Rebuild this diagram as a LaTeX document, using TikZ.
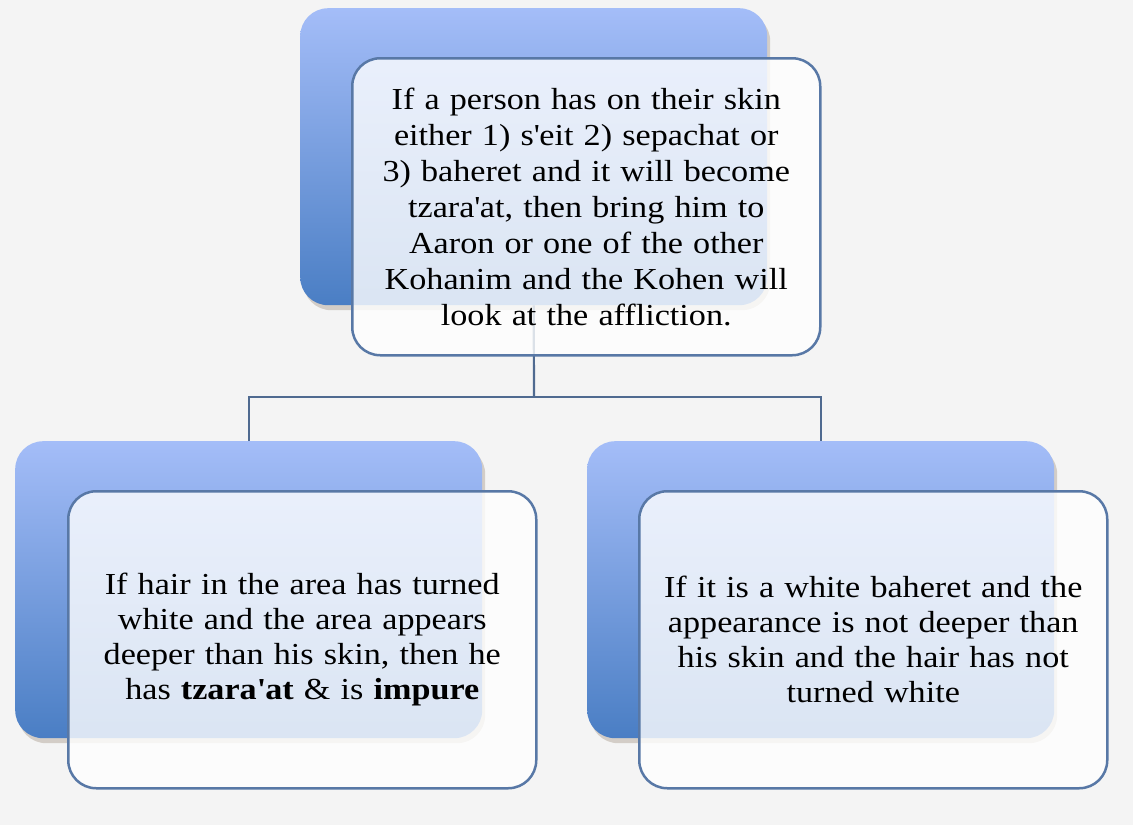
\documentclass[tikz,border=0pt]{standalone}
\usepackage{fontspec}
\setmainfont{Liberation Serif}[FakeStretch=1.12]
\usetikzlibrary{shadows}

\definecolor{bgcol}{HTML}{F4F4F4}
\definecolor{topblue}{HTML}{A4BDF8}
\definecolor{lowblue}{HTML}{4A7EC4}
\definecolor{edgeblue}{HTML}{5878A6}
\definecolor{linkblue}{HTML}{4F6A90}
\definecolor{shadowcol}{HTML}{8A7560}

\newcommand{\ap}{\textquotesingle}

\tikzset{
	backbox/.style={rectangle, rounded corners=28pt, anchor=north west,
		minimum width=467pt, minimum height=297pt, inner sep=0pt,
		top color=topblue, bottom color=lowblue, draw=none,
		drop shadow={shadow xshift=3pt, shadow yshift=-5pt, opacity=0.3, fill=shadowcol}},
	frontbox/.style={rectangle, rounded corners=28pt, anchor=north west,
		minimum width=468pt, minimum height=297pt, inner sep=0pt,
		draw=edgeblue, line width=2.5pt, fill=white, fill opacity=0.8,
		text opacity=1, align=center, text width=460pt},
	link/.style={draw=linkblue, line width=2.2pt}
}

\begin{document}
\begin{tikzpicture}[x=1pt, y=-1pt]

	\useasboundingbox[fill=bgcol] (0,0) rectangle (1133,825);

	% draw back boxes
	\foreach \s/\x/\y in {0/300/8, 1/15/441, 2/587/441}
	{
		\node[backbox] (b_\s) at (\x,\y) {};
	}

	% draw connectors
	\coordinate (fork) at (534,397);
	\path[link] (b_0.south) -- (fork);
	\path[link] (fork) -| (b_1.north);
	\path[link] (fork) -| (b_2.north);

	% draw front boxes
	\node[frontbox, font=\fontsize{30.5}{36}\selectfont] (f_0) at (351,57)
		{If a person has on their skin\\ either 1) s\ap eit 2) sepachat or\\
		 3) baheret and it will become\\ tzara\ap at, then bring him to\\
		 Aaron or one of the other\\ Kohanim and the Kohen will\\
		 look at the affliction.};
	\node[frontbox, font=\fontsize{30.5}{35}\selectfont] (f_1) at (67,490)
		{If hair in the area has turned\\ white and the area appears\\
		 deeper than his skin, then he\\ has \textbf{tzara\ap at} \& is \textbf{impure}};
	\node[frontbox, font=\fontsize{30.5}{35}\selectfont] (f_2) at (638,490)
		{If it is a white baheret and the\\ appearance is not deeper than\\
		 his skin and the hair has not\\ turned white};

\end{tikzpicture}
\end{document}
